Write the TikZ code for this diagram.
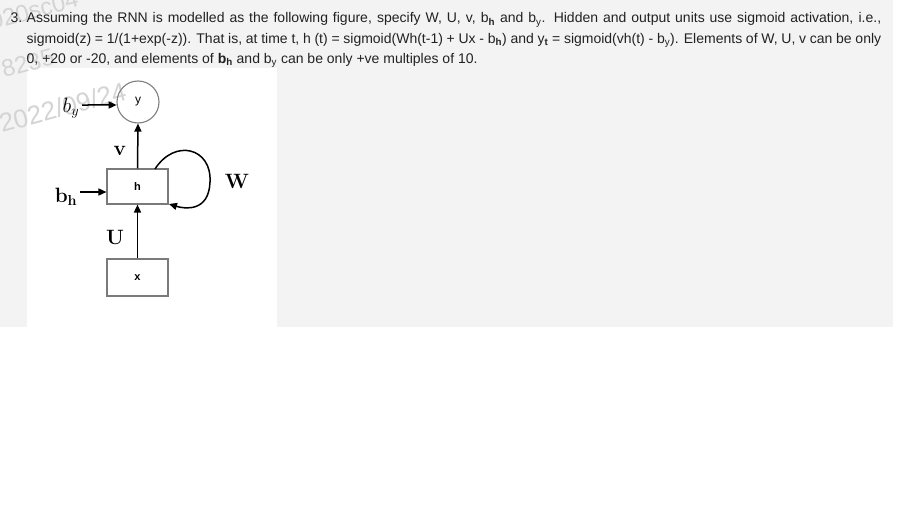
\documentclass[tikz,border=0pt]{standalone}
\usepackage[no-math]{fontspec}
\setmainfont{Liberation Sans}
\usetikzlibrary{arrows.meta,calc}
\definecolor{panel}{HTML}{F3F3F3}
\definecolor{txt}{HTML}{222222}
\definecolor{wm}{HTML}{D4D4D4}
\definecolor{boxc}{HTML}{7A7A7A}
\begin{document}
\begin{tikzpicture}[x=1pt,y=-1pt,
  arr/.style={-{Triangle[length=8pt,width=7pt]}, line width=1.5pt, draw=black},
  unit/.style={draw=boxc, line width=1.1pt, minimum width=61pt, minimum height=35pt, inner sep=0pt, font=\fontsize{11}{11}\selectfont\bfseries},
  lab/.style={inner sep=0pt, font=\fontsize{21}{21}\selectfont},
  wmark/.style={text=wm, font=\fontsize{24}{24}\selectfont, anchor=base west, rotate=15, inner sep=0pt},
  qline/.style={text=txt, anchor=base west, inner sep=0pt, font=\fontsize{14}{16}\selectfont}]
\useasboundingbox (0,0) rectangle (921,519);
\fill[white] (0,0) rectangle (921,519);
\fill[panel] (0,0) rectangle (893,327);
\fill[white] (27,68) rectangle (277,327);
% watermark
\node[wmark] (wm1) at (-8,30) {020sc04};
\node[wmark] (wm2) at (4,78) {8235};
\node[wmark, font=\fontsize{26}{26}\selectfont] (wm3) at (2,133) {2022/09/24};
% question text
\node[qline] (n3) at (10.5,23) {3.};
\node[qline] (l1) at (26.5,23) {\makebox[854.5pt][s]{Assuming the RNN is modelled as the following figure, specify W, U, v, b\textsubscript{\textbf{h}} and b\textsubscript{y}. Hidden and output units use sigmoid activation, i.e.,}};
\node[qline] (l2) at (26.5,43.5) {\makebox[854.5pt][s]{sigmoid(z) = 1/(1+exp(-z)). That is, at time t, h (t) = sigmoid(Wh(t-1) + Ux - b\textsubscript{\textbf{h}}) and y\textsubscript{\textbf{t}} = sigmoid(vh(t) - b\textsubscript{y}). Elements of W, U, v can be only}};
\node[qline] (l3) at (26.5,63.5) {0, +20 or -20, and elements of \textbf{b\textsubscript{h}} and b\textsubscript{y} can be only +ve multiples of 10.};
% diagram
\node[circle, draw=gray, line width=1.1pt, minimum size=42pt, inner sep=0pt, font=\fontsize{12}{12}\selectfont] (yy) at (138,102) {y};
\node[unit] (h) at (137.5,186.5) {h};
\node[unit, minimum height=37pt] (x) at (137.5,277.5) {x};
\draw[arr] (h.north) -- (yy.south);
\draw[arr] (x.north) -- (h.south);
\node[lab] (vl) at (120,151) {$\mathbf{v}$};
\node[lab] (Wl) at (237,181) {$\mathbf{W}$};
\node[lab] (Ul) at (115,237) {$\mathbf{U}$};
\node[lab] (bhl) at (66,197) {$\mathbf{b_h}$};
\node[lab] (byl) at (71,108) {$b_y$};
\coordinate (bys) at (82,105);
\draw[arr] (bys) -- (yy.188);
\coordinate (bhs) at (80,192);
\draw[arr] (bhs) -- (bhs -| h.west);
\coordinate (ls) at (155,169);
\coordinate (le) at (169,204);
\draw[arr] (ls) .. controls (175,138) and (212,148) .. (210,182) .. controls (209,212) and (185,209) .. (le);
\end{tikzpicture}
\end{document}
